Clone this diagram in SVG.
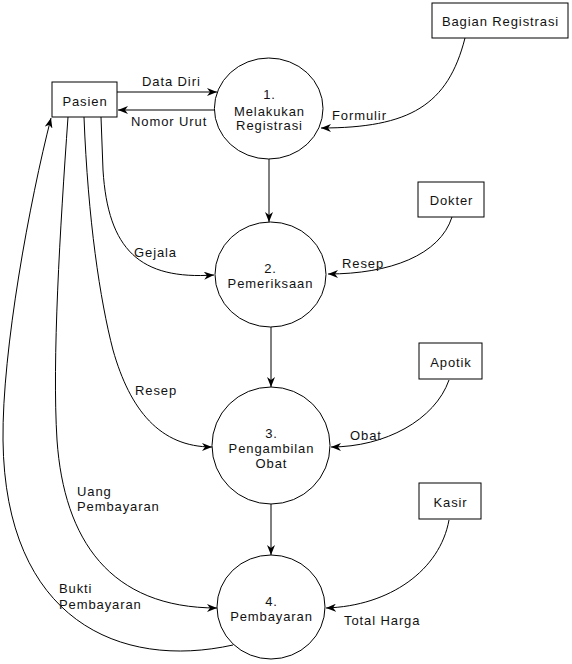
<svg xmlns="http://www.w3.org/2000/svg" width="572" height="664" viewBox="0 0 572 664">
<style>
  .bg { fill: #ffffff; }
  .box { fill: #ffffff; stroke: #000; stroke-width: 1; }
  .proc { fill: #ffffff; stroke: #000; stroke-width: 1; }
  .flow { fill: none; stroke: #000; stroke-width: 1; marker-end: url(#arrow); }
  text { font-family: "Liberation Sans", Arial, sans-serif; font-size: 13px; letter-spacing: 0.9px; fill: #111; }
  .c { text-anchor: middle; }
</style>
<defs>
  <marker id="arrow" viewBox="0 0 10 8" refX="10" refY="4" markerWidth="10" markerHeight="8" markerUnits="userSpaceOnUse" orient="auto">
    <path d="M0,0 L10,4 L0,8 L3,4 Z" fill="#000"/>
  </marker>
</defs>
<rect class="bg" x="0" y="0" width="572" height="664"/>

<g id="connectors">
  <path class="flow" d="M117,92 L217,92"/>
  <path class="flow" d="M215,110 L118,110"/>
  <path class="flow" d="M269,159 L269,222"/>
  <path class="flow" d="M271,327 L271,387"/>
  <path class="flow" d="M271,504 L271,555"/>
  <path class="flow" d="M465,38 C448,105 410,128 321,128"/>
  <path class="flow" d="M452,217 C440,255 390,274 328,274"/>
  <path class="flow" d="M449,380 C435,420 385,447 331,447"/>
  <path class="flow" d="M449,520 C440,570 390,606 326,608"/>
  <path class="flow" d="M101,117 L103,170 C108,250 140,280 214,275"/>
  <path class="flow" d="M84,117 C88,220 100,300 113,350 C130,410 160,447 212,447"/>
  <path class="flow" d="M68,117 C60,230 52,360 57,440 C64,540 110,608 217,608"/>
  <path class="flow" d="M233,645 C120,670 5,620 3,440 C2,350 30,200 51,118"/>
</g>

<g id="label-data-diri"><text x="142" y="86">Data Diri</text></g>
<g id="label-nomor-urut"><text x="131" y="126">Nomor Urut</text></g>
<g id="label-formulir"><text x="332" y="120">Formulir</text></g>
<g id="label-resep-dokter"><text x="342" y="268">Resep</text></g>
<g id="label-gejala"><text x="134" y="257">Gejala</text></g>
<g id="label-resep-pasien"><text x="135" y="395">Resep</text></g>
<g id="label-obat"><text x="350" y="440">Obat</text></g>
<g id="label-uang"><text x="77" y="496">Uang</text><text x="77" y="511">Pembayaran</text></g>
<g id="label-bukti"><text x="59" y="593">Bukti</text><text x="59" y="609">Pembayaran</text></g>
<g id="label-total-harga"><text x="344" y="625">Total Harga</text></g>

<g id="pasien">
  <rect class="box" x="52" y="82" width="65" height="35"/>
  <text class="c" x="85" y="106">Pasien</text>
</g>
<g id="bagian-registrasi">
  <rect class="box" x="432" y="3" width="136" height="35"/>
  <text class="c" x="500.5" y="26">Bagian Registrasi</text>
</g>
<g id="dokter">
  <rect class="box" x="418" y="182" width="66" height="35"/>
  <text class="c" x="451.5" y="205">Dokter</text>
</g>
<g id="apotik">
  <rect class="box" x="419" y="343" width="63" height="36"/>
  <text class="c" x="451" y="367">Apotik</text>
</g>
<g id="kasir">
  <rect class="box" x="419" y="483" width="62" height="36"/>
  <text class="c" x="450.5" y="507">Kasir</text>
</g>

<g id="proses-1">
  <ellipse class="proc" cx="268.7" cy="108.5" rx="54.3" ry="50.5"/>
  <text class="c" x="269.5" y="99">1.</text>
  <text class="c" x="269.5" y="116">Melakukan</text>
  <text class="c" x="269.5" y="130">Registrasi</text>
</g>
<g id="proses-2">
  <ellipse class="proc" cx="270.5" cy="274.5" rx="55.5" ry="52.5"/>
  <text class="c" x="270.5" y="273">2.</text>
  <text class="c" x="270.5" y="288">Pemeriksaan</text>
</g>
<g id="proses-3">
  <ellipse class="proc" cx="271" cy="445.5" rx="59" ry="58.5"/>
  <text class="c" x="271.5" y="438">3.</text>
  <text class="c" x="271.5" y="453">Pengambilan</text>
  <text class="c" x="271.5" y="468">Obat</text>
</g>
<g id="proses-4">
  <ellipse class="proc" cx="271" cy="607" rx="54" ry="52"/>
  <text class="c" x="271.5" y="606">4.</text>
  <text class="c" x="271.5" y="621">Pembayaran</text>
</g>
</svg>
